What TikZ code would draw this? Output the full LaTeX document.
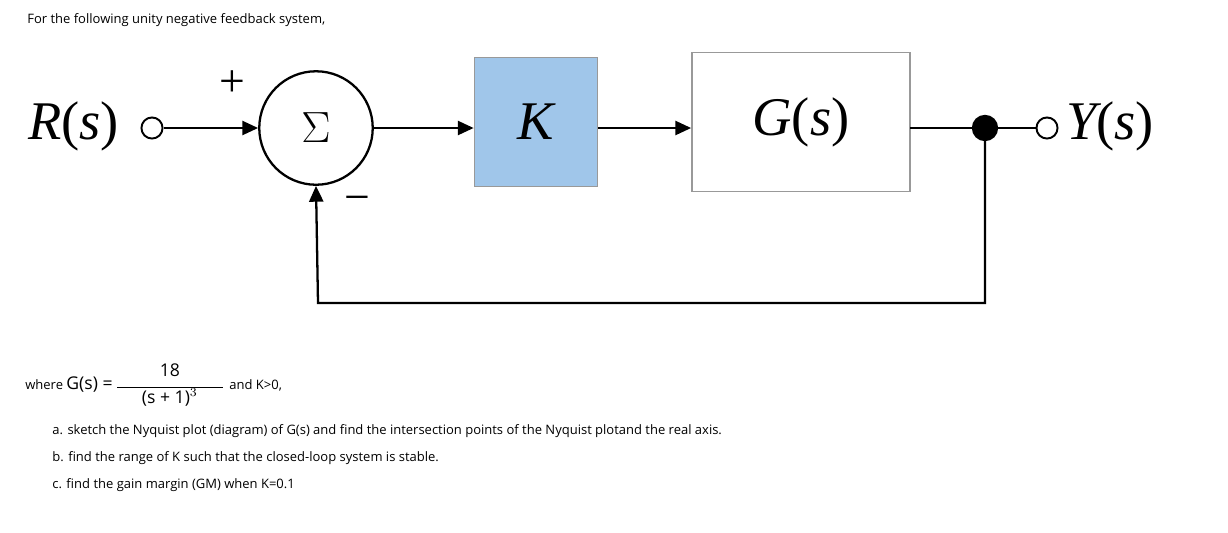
\documentclass[tikz,border=0pt]{standalone}
\usepackage{fontspec}
\setmainfont{Liberation Serif}
\newfontfamily\smallsans{Open Sans}
\usetikzlibrary{arrows.meta}
\begin{document}
\begin{tikzpicture}[x=0.02cm,y=-0.02cm,
  txt/.style={font=\smallsans\fontsize{7.4}{9}\selectfont,anchor=west,inner sep=0},
  big/.style={font=\fontsize{31}{36}\selectfont\itshape,inner sep=0},
  wire/.style={line width=1.3pt},
  arr/.style={wire,-{Triangle[length=9pt,width=8pt]}},
  opn/.style={circle,draw,line width=1.1pt,fill=white,minimum size=12pt,inner sep=0}]
\useasboundingbox (0,0) rectangle (1228,532);
\node[txt] (t0) at (27,20) {For the following unity negative feedback system,};
\node[big,anchor=west] (R) at (28,126) {R\upshape(\itshape s\upshape)};
\node[opn] (rin) at (152,128) {};
\node[circle,draw,line width=1.3pt,minimum size=2.27cm,inner sep=0,font=\fontsize{32}{36}\selectfont] (sum) at (316,128) {$\Sigma$};
\node[font=\fontsize{26}{30}\selectfont] (plus) at (232,84) {+};
\node[font=\fontsize{26}{30}\selectfont] (minus) at (357,204) {\textminus};
\node[draw=gray!80,line width=1pt,fill={rgb,255:red,160;green,198;blue,234},minimum width=2.46cm,minimum height=2.58cm,big] (K) at (536,122) {K};
\node[draw=gray!80,line width=1pt,minimum width=4.36cm,minimum height=2.78cm,big] (G) at (801,122) {G\upshape(\itshape s\upshape)};
\coordinate (Gout) at (910,128);
\node[circle,fill,minimum size=15pt,inner sep=0] (dot) at (985,128) {};
\node[opn] (yout) at (1047,128) {};
\node[big,anchor=west] (Y) at (1066,126) {Y\upshape(\itshape s\upshape)};
\draw[arr] (rin) -- (sum);
\draw[arr] (sum) -- (sum -| K.west);
\draw[arr] (K.east |- 0,128) -- (G.west |- 0,128);
\draw[wire] (Gout) -- (yout);
\coordinate (c1) at (985,303);
\coordinate (c2) at (318,303);
\draw[arr] (dot.center) -- (c1) -- (c2) -- (sum.south);
\node[txt] (w) at (25,386) {where {\fontsize{10}{12}\selectfont G(s) = }\raisebox{0pt}{\begin{tabular}{@{}c@{}}{\fontsize{10}{12}\selectfont 18}\\[-3pt]\rule{60pt}{0.5pt}\\[-2pt]{\fontsize{10}{12}\selectfont (s + 1)$^3$}\end{tabular}}\ \ and K>0,};
\node[txt] (a) at (52,431) {a. sketch the Nyquist plot (diagram) of G(s) and find the intersection points of the Nyquist plotand the real axis.};
\node[txt] (b) at (52,458) {b. find the range of K such that the closed-loop system is stable.};
\node[txt] (c) at (52,485) {c. find the gain margin (GM) when K=0.1};
\end{tikzpicture}
\end{document}
